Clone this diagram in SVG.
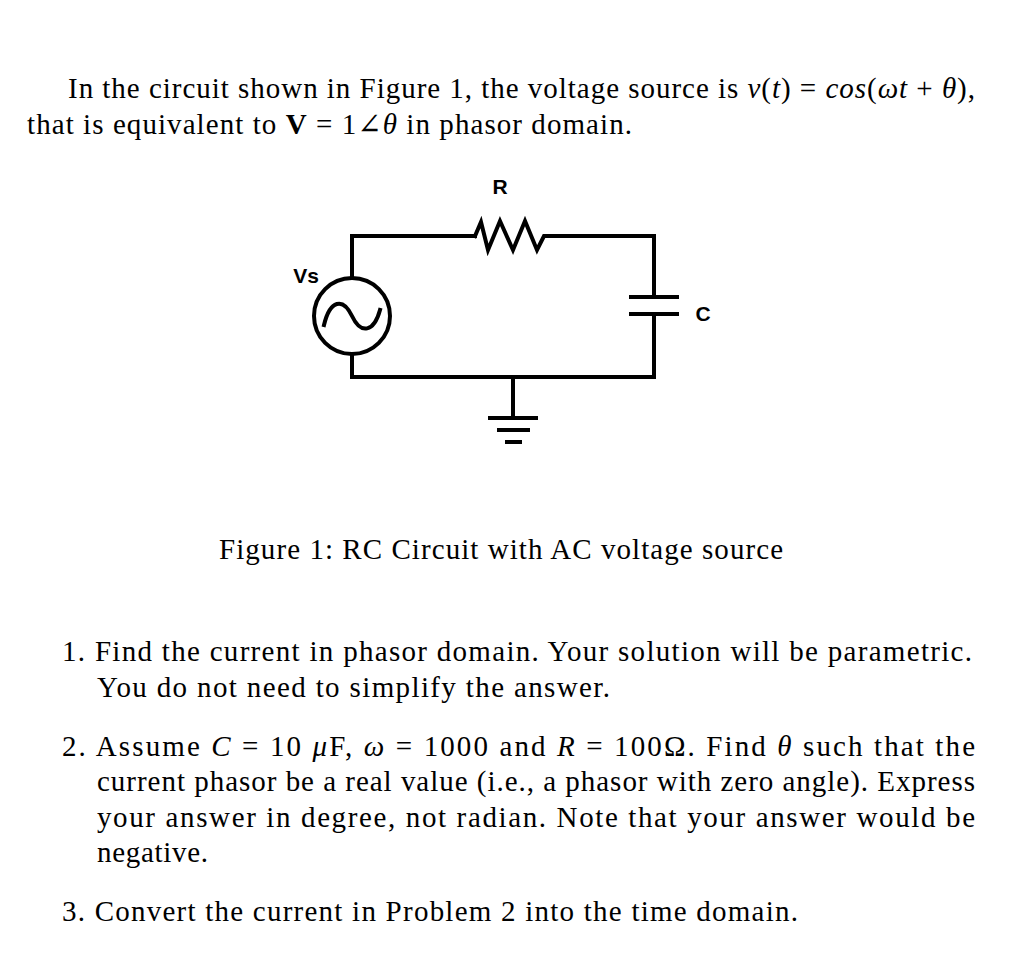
<svg xmlns="http://www.w3.org/2000/svg" width="1024" height="958" viewBox="0 0 1024 958">
<style>
.t{font-family:"Liberation Serif","DejaVu Serif",serif;font-size:29px;fill:#000}
.l{font-family:"Liberation Sans",Arial,sans-serif;font-size:21px;font-weight:bold;fill:#000}
.w{fill:none;stroke:#000;stroke-width:4;stroke-linecap:square;stroke-linejoin:miter}
</style>
<rect width="1024" height="958" fill="#fff"/>
<text class="t" x="68" y="98" textLength="907" lengthAdjust="spacing">In the circuit shown in Figure 1, the voltage source is <tspan font-style="italic">v</tspan>(<tspan font-style="italic">t</tspan>) = <tspan font-style="italic">cos</tspan>(<tspan font-style="italic">ωt</tspan> + <tspan font-style="italic">θ</tspan>),</text>
<text class="t" x="27" y="134" textLength="605" lengthAdjust="spacing">that is equivalent to <tspan font-weight="bold">V</tspan> = 1∠<tspan font-style="italic">θ</tspan> in phasor domain.</text>
<g id="connectors">
<path class="w" d="M475,236 H352 V278 M352,354 V377 H654 V314 M654,297 V236 H551"/>
<path class="w" d="M513,377 V418"/>
</g>
<g id="resistor"><path class="w" d="M475,236 L481,222 L488,250 L500,221 L513,250 L525,221 L537,250 L544,236 L551,236"/><text class="l" x="500" y="194" text-anchor="middle">R</text></g>
<g id="source"><circle class="w" cx="352" cy="316" r="38"/><path class="w" d="M324,325 C330,300 343,297 352,316 C361,335 374,332 380,310"/><text class="l" x="306" y="283" text-anchor="middle">Vs</text></g>
<g id="capacitor"><path class="w" d="M631,297 H677 M631,314 H677"/><text class="l" x="703" y="321" text-anchor="middle">C</text></g>
<g id="ground"><path class="w" d="M490,418 H536 M499,430 H528 M507,442 H520"/></g>
<text class="t" x="219" y="559" textLength="564" lengthAdjust="spacing">Figure 1: RC Circuit with AC voltage source</text>
<text class="t" x="62" y="661" textLength="910" lengthAdjust="spacing">1.  Find the current in phasor domain.  Your solution will be parametric.</text>
<text class="t" x="97" y="697" textLength="513" lengthAdjust="spacing">You do not need to simplify the answer.</text>
<text class="t" x="62" y="756" textLength="913" lengthAdjust="spacing">2.  Assume <tspan font-style="italic">C</tspan> = 10 <tspan font-style="italic">μ</tspan>F, <tspan font-style="italic">ω</tspan> = 1000 and <tspan font-style="italic">R</tspan> = 100Ω.  Find <tspan font-style="italic">θ</tspan> such that the</text>
<text class="t" x="97" y="791" textLength="878" lengthAdjust="spacing">current phasor be a real value (i.e., a phasor with zero angle).  Express</text>
<text class="t" x="97" y="827" textLength="878" lengthAdjust="spacing">your answer in degree, not radian.  Note that your answer would be</text>
<text class="t" x="97" y="862" textLength="111" lengthAdjust="spacing">negative.</text>
<text class="t" x="62" y="921" textLength="736" lengthAdjust="spacing">3.  Convert the current in Problem 2 into the time domain.</text>
</svg>
